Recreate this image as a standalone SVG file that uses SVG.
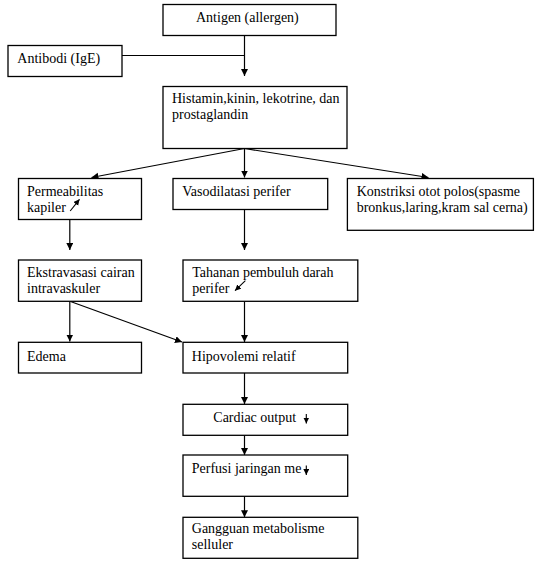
<svg xmlns="http://www.w3.org/2000/svg" width="540" height="567" viewBox="0 0 540 567">
<style>
.box{fill:#fff;stroke:#000;stroke-width:1.3}
.t{font-family:"Liberation Serif","Times New Roman",serif;font-size:14px;fill:#000}
.c{fill:none;stroke:#000;stroke-width:1.2}
.s{fill:none;stroke:#000;stroke-width:1.1}
</style>
<defs>
<marker id="ah" markerUnits="userSpaceOnUse" markerWidth="8" markerHeight="8" refX="7" refY="3.5" orient="auto">
<path d="M0,0 L7,3.5 L0,7 z" fill="#000"/>
</marker>
<marker id="sh" markerUnits="userSpaceOnUse" markerWidth="7" markerHeight="7" refX="6" refY="3" orient="auto">
<path d="M0,0 L6,3 L0,6 z" fill="#000"/>
</marker>
</defs>
<rect width="540" height="567" fill="#fff"/>
<g id="connectors">
<line class="c" x1="122" y1="55.5" x2="244.5" y2="55.5"/>
<line class="c" x1="244.5" y1="35.5" x2="244.5" y2="76" marker-end="url(#ah)"/>
<line class="c" x1="244.5" y1="148.5" x2="91.5" y2="177.5" marker-end="url(#ah)"/>
<line class="c" x1="244.5" y1="148.5" x2="244.5" y2="177.5" marker-end="url(#ah)"/>
<line class="c" x1="244.5" y1="148.5" x2="428.5" y2="177.5" marker-end="url(#ah)"/>
<line class="c" x1="69.8" y1="219.5" x2="69.8" y2="250" marker-end="url(#ah)"/>
<line class="c" x1="244.5" y1="209.5" x2="244.5" y2="250" marker-end="url(#ah)"/>
<line class="c" x1="69.8" y1="301.5" x2="69.8" y2="341.5" marker-end="url(#ah)"/>
<line class="c" x1="70.5" y1="301.5" x2="182" y2="342" marker-end="url(#ah)"/>
<line class="c" x1="244.5" y1="301.5" x2="244.5" y2="342" marker-end="url(#ah)"/>
<line class="c" x1="244.5" y1="373" x2="244.5" y2="404" marker-end="url(#ah)"/>
<line class="c" x1="244.5" y1="435.3" x2="244.5" y2="455" marker-end="url(#ah)"/>
<line class="c" x1="244.5" y1="496.3" x2="244.5" y2="517.3" marker-end="url(#ah)"/>
</g>
<g id="antigen">
<rect class="box" x="163" y="4.5" width="173" height="31"/>
<text class="t" x="196" y="22">Antigen (allergen)</text>
</g>
<g id="antibodi">
<rect class="box" x="8" y="45.5" width="114" height="31"/>
<text class="t" x="17.3" y="63">Antibodi (IgE)</text>
</g>
<g id="histamin">
<rect class="box" x="163" y="86.5" width="184" height="62"/>
<text class="t" x="172" y="103">Histamin,kinin, lekotrine, dan</text>
<text class="t" x="172" y="119">prostaglandin</text>
</g>
<g id="permeabilitas">
<rect class="box" x="18.5" y="178.5" width="123" height="41"/>
<text class="t" x="27" y="195.7">Permeabilitas</text>
<text class="t" x="27" y="211.7">kapiler</text>
<line class="s" x1="70.2" y1="211" x2="79.5" y2="199.3" marker-end="url(#sh)"/>
</g>
<g id="vasodilatasi">
<rect class="box" x="173" y="178.5" width="154.7" height="31"/>
<text class="t" x="182.2" y="195.7">Vasodilatasi perifer</text>
</g>
<g id="konstriksi">
<rect class="box" x="347.4" y="178.5" width="186" height="51.8"/>
<text class="t" x="356.7" y="195.7">Konstriksi otot polos(spasme</text>
<text class="t" x="356.7" y="211.7">bronkus,laring,kram sal cerna)</text>
</g>
<g id="ekstravasasi">
<rect class="box" x="18.5" y="260" width="123" height="41.3"/>
<text class="t" x="27" y="277.3">Ekstravasasi cairan</text>
<text class="t" x="27" y="293.3">intravaskuler</text>
</g>
<g id="tahanan">
<rect class="box" x="183" y="260" width="174.8" height="41.3"/>
<text class="t" x="192.2" y="277.3">Tahanan pembuluh darah</text>
<text class="t" x="192.2" y="293.3">perifer</text>
<line class="s" x1="245.4" y1="280.7" x2="235" y2="290.7" marker-end="url(#sh)"/>
</g>
<g id="edema">
<rect class="box" x="18.5" y="342.3" width="123" height="30.7"/>
<text class="t" x="27" y="361">Edema</text>
</g>
<g id="hipovolemi">
<rect class="box" x="183" y="342.3" width="164.7" height="30.7"/>
<text class="t" x="191.8" y="361">Hipovolemi relatif</text>
</g>
<g id="cardiac">
<rect class="box" x="183" y="404.3" width="164.7" height="31"/>
<text class="t" x="213.3" y="421.7">Cardiac output</text>
<line class="s" x1="306.3" y1="414" x2="306.3" y2="423.5" marker-end="url(#sh)"/>
</g>
<g id="perfusi">
<rect class="box" x="183" y="455" width="164.7" height="41.3"/>
<text class="t" x="191.8" y="473.3">Perfusi jaringan me</text>
<line class="s" x1="306.3" y1="465.5" x2="306.3" y2="475" marker-end="url(#sh)"/>
</g>
<g id="gangguan">
<rect class="box" x="183" y="517.3" width="174.8" height="41"/>
<text class="t" x="191.8" y="533.3">Gangguan metabolisme</text>
<text class="t" x="191.8" y="549.3">selluler</text>
</g>
</svg>
